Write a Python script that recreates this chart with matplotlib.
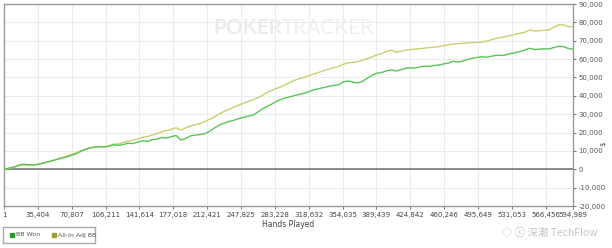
import numpy as np
import matplotlib.pyplot as plt
from matplotlib.ticker import FuncFormatter

# cumulative winnings in big blinds, sampled every ~5,000 hands
bb_won = [0, 0.6, 1.2, 2.2, 2.8, 2.5, 2.4, 2.6, 3.2, 3.9,
          4.5, 5.3, 6.0, 6.6, 7.5, 8.4, 9.6, 10.8, 11.6, 12.0,
          12.3, 12.1, 12.6, 13.4, 13.0, 13.5, 14.2, 14.0, 14.8, 15.5,
          15.2, 16.1, 16.4, 17.3, 17.0, 17.8, 18.4, 15.9, 16.8, 18.2,
          18.6, 18.9, 19.4, 20.6, 22.5, 24.0, 25.1, 26.0, 26.6, 27.5,
          28.2, 28.9, 29.4, 31.0, 32.8, 34.2, 35.5, 37.0, 38.2, 38.9,
          39.6, 40.3, 40.9, 41.5, 42.6, 43.4, 44.0, 44.6, 45.2, 45.6,
          46.0, 47.6, 48.1, 47.4, 47.0, 47.9, 49.6, 51.2, 52.3, 52.7,
          53.6, 54.1, 53.5, 54.2, 55.0, 55.3, 55.1, 55.8, 56.2, 56.0,
          56.5, 56.8, 57.4, 57.9, 58.8, 58.3, 58.9, 59.8, 60.5, 60.9,
          61.3, 61.0, 61.6, 62.1, 62.0, 62.3, 63.0, 63.6, 64.1, 65.0,
          65.9, 65.2, 65.4, 65.6, 65.5, 66.3, 67.0, 66.8, 65.8, 65.4]

allin_adj = [0, 0.5, 1.0, 1.8, 2.3, 2.2, 2.4, 2.7, 3.3, 4.0,
             4.7, 5.5, 6.3, 7.0, 8.0, 8.9, 10.0, 11.0, 11.7, 12.1,
             12.4, 12.3, 12.9, 13.7, 13.8, 14.6, 15.3, 15.9, 16.6, 17.4,
             17.8, 18.7, 19.4, 20.4, 21.0, 21.8, 22.6, 21.3, 22.5, 23.6,
             24.2, 24.9, 26.0, 27.2, 28.5, 30.0, 31.5, 32.6, 33.8, 34.9,
             35.8, 36.9, 37.8, 38.9, 40.2, 41.8, 42.9, 44.0, 45.0, 46.3,
             47.6, 48.7, 49.5, 50.3, 51.2, 52.0, 52.9, 53.8, 54.6, 55.3,
             56.0, 57.2, 58.0, 58.2, 58.6, 59.4, 60.3, 61.2, 62.3, 63.0,
             64.2, 64.8, 63.8, 64.3, 64.9, 65.2, 65.4, 65.7, 66.0, 66.3,
             66.5, 66.8, 67.3, 67.8, 68.3, 68.5, 68.6, 68.8, 69.0, 69.1,
             69.2, 69.8, 70.6, 71.3, 71.8, 72.3, 72.9, 73.6, 74.1, 74.7,
             75.9, 75.2, 75.5, 75.7, 75.9, 77.4, 78.6, 78.7, 77.6, 77.8]

xtick_labels = [1, 35404, 70807, 106211, 141614, 177018, 212421, 247825,
                283228, 318632, 354035, 389439, 424842, 460246, 495649,
                531053, 566456, 594989]
yticks = [-20000, -10000, 0, 10000, 20000, 30000, 40000, 50000, 60000,
          70000, 80000, 90000]

hands = np.linspace(1, 594989, len(bb_won))
bb_won = np.array(bb_won) * 1000
allin_adj = np.array(allin_adj) * 1000

fig = plt.figure(figsize=(6.12, 2.48), dpi=100)
ax = fig.add_axes([4 / 612, 42 / 248, 569 / 612, 202 / 248])

grid_c = "#e8e8e8"
for t in xtick_labels:
    ax.axvline(t, color=grid_c, lw=0.6, zorder=0)
for t in yticks:
    ax.axhline(t, color=grid_c, lw=0.6, zorder=0)
ax.axhline(0, color="#777777", lw=1.2, zorder=1)

ax.plot(hands, allin_adj, color="#cccc70", lw=1.0, zorder=3)
ax.plot(hands, bb_won, color="#58c558", lw=1.0, zorder=4)

ax.set_xlim(1, 594989)
ax.set_ylim(-20000, 90000)
ax.set_xticks(xtick_labels)
ax.set_xticklabels([f"{v:,}" for v in xtick_labels])
ax.set_yticks(yticks)
ax.yaxis.set_major_formatter(FuncFormatter(lambda v, p: f"{int(v):,}"))
ax.yaxis.tick_right()
ax.tick_params(axis="both", labelsize=5, colors="#555555", length=2,
               width=0.6, pad=2)
ax.tick_params(axis="x", labelcolor="#444444")

for side in ["left", "top", "right", "bottom"]:
    ax.spines[side].set_color("#999999")
    ax.spines[side].set_linewidth(1.0)

ax.set_xlabel("Hands Played", fontsize=5.5, color="#444444", labelpad=2)
fig.text(603 / 612, 104 / 248, "$", fontsize=5, color="#444444",
         rotation=90, ha="center", va="center")

# watermark
fig.text(213 / 612, 220 / 248, "POKER", fontsize=15, fontweight="bold",
         family="Lato", color="#ebebeb", ha="left", va="center", zorder=2)
fig.text(282 / 612, 220 / 248, "TRACKER", fontsize=15, family="Lato",
         color="#efefef", ha="left", va="center", zorder=2)

# legend
leg_ax = fig.add_axes([3 / 612, 5 / 248, 92 / 612, 16 / 248])
leg_ax.set_xticks([])
leg_ax.set_yticks([])
for s in leg_ax.spines.values():
    s.set_color("#aaaaaa")
    s.set_linewidth(1.0)
leg_ax.set_xlim(0, 92)
leg_ax.set_ylim(0, 16)
leg_ax.add_patch(plt.Rectangle((7, 6), 4, 4, color="#2a9a2a"))
leg_ax.text(13, 8, "BB Won", fontsize=4.5, color="#555555", va="center")
leg_ax.add_patch(plt.Rectangle((49, 6), 4, 4, color="#a0a030"))
leg_ax.text(55, 8, "All-In Adj BB", fontsize=4.5, color="#555555", va="center")

fig.text(598 / 612, 15 / 248, "\u25c7 \u24d2 深潮 TechFlow", fontsize=7.5,
         color="#c4c4c4", ha="right", va="center",
         family=["Noto Sans CJK SC", "DejaVu Sans"])

fig.savefig("out.png", dpi=100)
